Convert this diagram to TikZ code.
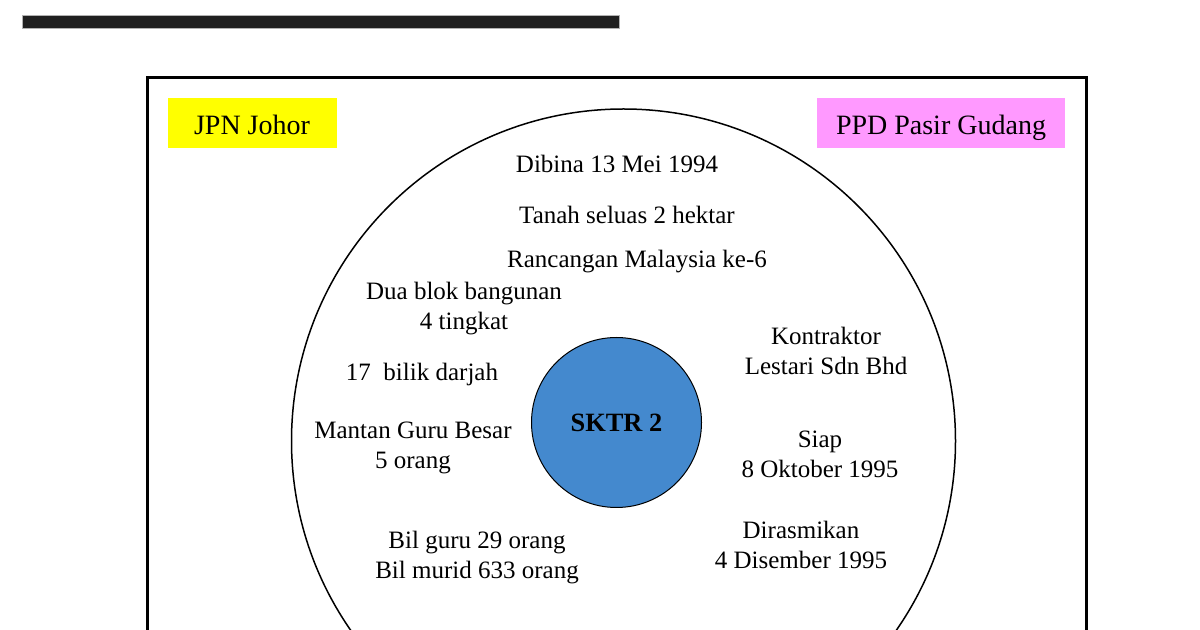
\documentclass[tikz,border=0pt]{standalone}
\usepackage{fontspec}
\setmainfont{Liberation Serif}
\definecolor{jpnyellow}{RGB}{255,255,0}
\definecolor{ppdpink}{RGB}{255,153,255}
\definecolor{sktrblue}{RGB}{68,137,206}
\definecolor{barblack}{RGB}{32,32,32}
\begin{document}
\begin{tikzpicture}[x=0.5pt, y=-0.5pt,
  info/.style={align=center, font=\fontsize{12.5}{15}\selectfont, inner sep=0},
  tag/.style={minimum width=84.5pt, minimum height=25pt, text height=11.5pt, text depth=0.2pt,
              font=\fontsize{14}{16}\selectfont}]

  \useasboundingbox (0,0) rectangle (1200,630);
  \clip (0,0) rectangle (1200,630);

  % Header bar and frame
  \draw[fill=barblack, draw=gray!60, line width=0.4pt] (22,15) rectangle (619,28);
  \draw[line width=1.5pt] (147,78) rectangle (1086,700);

  % Circles
  \draw[line width=0.75pt] (623.5,441) circle (332);
  \draw (616.5,422.5) node(S) [circle, draw, fill=sktrblue, line width=0.5pt, minimum size=85pt] {\fontsize{13.2}{15}\selectfont\bfseries SKTR 2};

  % Corner tags
  \draw (252,123.5) node(J) [tag, fill=jpnyellow] {JPN Johor};
  \draw (941,123) node(P) [tag, fill=ppdpink, minimum width=124pt] {PPD Pasir Gudang};

  % Facts
  \draw (617,164) node(F1) [info] {Dibina 13 Mei 1994};
  \draw (627,215) node(F2) [info] {Tanah seluas 2 hektar};
  \draw (637,262) node(F3) [info] {Rancangan Malaysia ke-6};
  \draw (464,309) node(F4) [info] {Dua blok bangunan\\4 tingkat};
  \draw (826,351) node(F5) [info] {Kontraktor\\Lestari Sdn Bhd};
  \draw (422,374) node(F6) [info] {17\ \ bilik darjah};
  \draw (413,448) node(F7) [info] {Mantan Guru Besar\\5 orang};
  \draw (820,454) node(F8) [info] {Siap\\8 Oktober 1995};
  \draw (801,545) node(F9) [info] {Dirasmikan\\4 Disember 1995};
  \draw (477,558) node(F10) [info] {Bil guru 29 orang\\Bil murid 633 orang};
\end{tikzpicture}
\end{document}
